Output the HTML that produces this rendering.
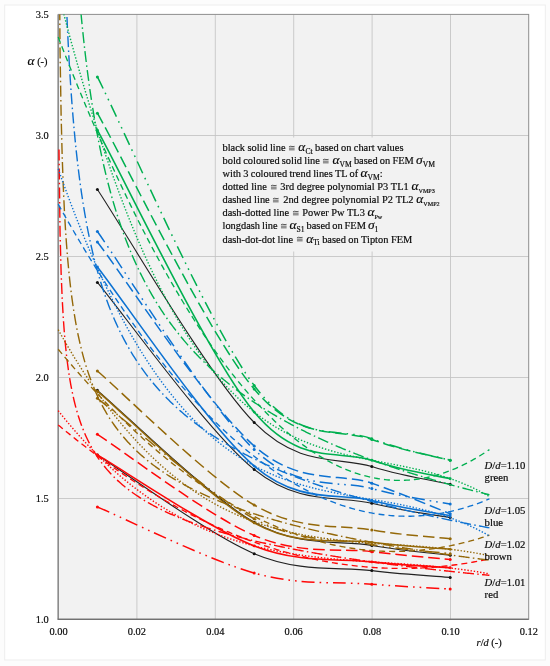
<!DOCTYPE html>
<html><head><meta charset="utf-8"><title>chart</title>
<style>html,body{margin:0;padding:0;background:#fff}svg{display:block}</style></head>
<body>
<svg width="550" height="666" viewBox="0 0 550 666">
<rect x="0" y="0" width="550" height="666" fill="#ffffff"/>
<rect x="0" y="0" width="550" height="666" fill="#fcfcfc"/>
<rect x="4.7" y="5" width="540.6" height="655" fill="#ffffff" stroke="#ededed" stroke-width="1"/>
<rect x="58.3" y="14.4" width="470.4" height="604.8" fill="#f2f2f2"/>
<path d="M136.90,14.5V619 M215.30,14.5V619 M293.70,14.5V619 M372.10,14.5V619 M450.50,14.5V619 M58.5,135.50H528.9 M58.5,256.50H528.9 M58.5,377.50H528.9 M58.5,498.50H528.9" stroke="#c3c3c3" stroke-width="0.85" fill="none"/>
<rect x="217" y="137.5" width="229" height="114" fill="#f2f2f2"/>
<rect x="58.3" y="14.4" width="470.4" height="604.8" fill="none" stroke="#8e8e8e" stroke-width="1"/>
<path d="M58.2,14.4V619.2" stroke="#8c8c8c" stroke-width="1.5" fill="none"/>
<path d="M57.5,619.3H528.7" stroke="#5e5e5e" stroke-width="1.1" fill="none"/>
<defs><clipPath id="cp"><rect x="57.2" y="14.4" width="471.8" height="605"/></clipPath></defs>
<g clip-path="url(#cp)" fill="none" stroke-linejoin="round">
<g stroke="#ff0808" stroke-width="1.5">
<path d="M97.40,454.92 C123.53,471.38 208.47,534.38 254.20,553.66 C299.93,572.94 339.13,566.65 371.80,570.60 C404.47,574.55 437.13,576.25 450.20,577.38" stroke="#222" stroke-width="1.1"/>
<circle cx="97.40" cy="454.92" r="1.5" fill="#111" stroke="none"/>
<circle cx="254.20" cy="553.66" r="1.5" fill="#111" stroke="none"/>
<circle cx="371.80" cy="570.60" r="1.5" fill="#111" stroke="none"/>
<circle cx="450.20" cy="577.38" r="1.5" fill="#111" stroke="none"/>
<path d="M97.40,454.92 C123.53,470.09 208.47,528.09 254.20,545.92 C299.93,563.74 339.13,558.26 371.80,561.89 C404.47,565.52 437.13,566.73 450.20,567.70" stroke-width="1.6"/>
<circle cx="97.40" cy="454.92" r="1.4" fill="#ff0808" stroke="none"/>
<circle cx="254.20" cy="545.92" r="1.4" fill="#ff0808" stroke="none"/>
<circle cx="371.80" cy="561.89" r="1.4" fill="#ff0808" stroke="none"/>
<circle cx="450.20" cy="567.70" r="1.4" fill="#ff0808" stroke="none"/>
<path d="M58.20,410.66 L60.17,413.14 L62.14,415.59 L64.11,418.02 L66.08,420.42 L68.04,422.79 L70.01,425.13 L71.98,427.44 L73.95,429.73 L75.92,431.99 L77.89,434.22 L79.86,436.43 L81.83,438.61 L83.80,440.76 L85.77,442.89 L87.73,444.99 L89.70,447.06 L91.67,449.11 L93.64,451.13 L95.61,453.13 L97.58,455.10 L99.55,457.05 L101.52,458.97 L103.49,460.87 L105.45,462.74 L107.42,464.59 L109.39,466.41 L111.36,468.21 L113.33,469.99 L115.30,471.74 L117.27,473.47 L119.24,475.17 L121.21,476.86 L123.18,478.51 L125.14,480.15 L127.11,481.76 L129.08,483.35 L131.05,484.92 L133.02,486.47 L134.99,487.99 L136.96,489.49 L138.93,490.97 L140.90,492.43 L142.86,493.87 L144.83,495.29 L146.80,496.68 L148.77,498.06 L150.74,499.41 L152.71,500.74 L154.68,502.06 L156.65,503.35 L158.62,504.62 L160.59,505.88 L162.55,507.11 L164.52,508.32 L166.49,509.52 L168.46,510.70 L170.43,511.85 L172.40,512.99 L174.37,514.11 L176.34,515.21 L178.31,516.29 L180.27,517.36 L182.24,518.41 L184.21,519.44 L186.18,520.45 L188.15,521.44 L190.12,522.42 L192.09,523.38 L194.06,524.32 L196.03,525.25 L198.00,526.16 L199.96,527.05 L201.93,527.93 L203.90,528.79 L205.87,529.64 L207.84,530.47 L209.81,531.28 L211.78,532.08 L213.75,532.87 L215.72,533.64 L217.68,534.39 L219.65,535.13 L221.62,535.86 L223.59,536.57 L225.56,537.26 L227.53,537.95 L229.50,538.62 L231.47,539.27 L233.44,539.91 L235.41,540.54 L237.37,541.16 L239.34,541.76 L241.31,542.35 L243.28,542.93 L245.25,543.50 L247.22,544.05 L249.19,544.59 L251.16,545.12 L253.13,545.64 L255.09,546.14 L257.06,546.64 L259.03,547.12 L261.00,547.60 L262.97,548.06 L264.94,548.51 L266.91,548.95 L268.88,549.38 L270.85,549.80 L272.82,550.21 L274.78,550.61 L276.75,551.00 L278.72,551.39 L280.69,551.76 L282.66,552.12 L284.63,552.48 L286.60,552.82 L288.57,553.16 L290.54,553.49 L292.51,553.81 L294.47,554.12 L296.44,554.42 L298.41,554.72 L300.38,555.01 L302.35,555.29 L304.32,555.57 L306.29,555.83 L308.26,556.09 L310.23,556.35 L312.19,556.60 L314.16,556.84 L316.13,557.07 L318.10,557.30 L320.07,557.52 L322.04,557.74 L324.01,557.95 L325.98,558.16 L327.95,558.36 L329.92,558.56 L331.88,558.75 L333.85,558.94 L335.82,559.12 L337.79,559.30 L339.76,559.48 L341.73,559.65 L343.70,559.81 L345.67,559.98 L347.64,560.14 L349.60,560.29 L351.57,560.45 L353.54,560.60 L355.51,560.74 L357.48,560.89 L359.45,561.03 L361.42,561.17 L363.39,561.31 L365.36,561.45 L367.33,561.59 L369.29,561.72 L371.26,561.85 L373.23,561.98 L375.20,562.11 L377.17,562.24 L379.14,562.37 L381.11,562.50 L383.08,562.63 L385.05,562.76 L387.01,562.88 L388.98,563.01 L390.95,563.14 L392.92,563.27 L394.89,563.40 L396.86,563.53 L398.83,563.66 L400.80,563.80 L402.77,563.93 L404.74,564.07 L406.70,564.21 L408.67,564.35 L410.64,564.49 L412.61,564.63 L414.58,564.78 L416.55,564.93 L418.52,565.08 L420.49,565.24 L422.46,565.39 L424.42,565.56 L426.39,565.72 L428.36,565.89 L430.33,566.06 L432.30,566.24 L434.27,566.42 L436.24,566.61 L438.21,566.80 L440.18,566.99 L442.15,567.19 L444.11,567.39 L446.08,567.60 L448.05,567.82 L450.02,568.04 L451.99,568.26 L453.96,568.50 L455.93,568.74 L457.90,568.98 L459.87,569.23 L461.83,569.49 L463.80,569.75 L465.77,570.02 L467.74,570.30 L469.71,570.59 L471.68,570.88 L473.65,571.18 L475.62,571.49 L477.59,571.81 L479.56,572.13 L481.52,572.47 L483.49,572.81 L485.46,573.16 L487.43,573.52 L489.40,573.88 " stroke-dasharray="1.4 1.8" stroke-width="1.4"/>
<path d="M58.20,424.91 L60.17,426.55 L62.14,428.18 L64.11,429.81 L66.08,431.42 L68.04,433.03 L70.01,434.62 L71.98,436.21 L73.95,437.79 L75.92,439.35 L77.89,440.91 L79.86,442.46 L81.83,444.00 L83.80,445.53 L85.77,447.05 L87.73,448.56 L89.70,450.06 L91.67,451.55 L93.64,453.04 L95.61,454.51 L97.58,455.97 L99.55,457.43 L101.52,458.87 L103.49,460.30 L105.45,461.73 L107.42,463.15 L109.39,464.55 L111.36,465.95 L113.33,467.34 L115.30,468.72 L117.27,470.09 L119.24,471.44 L121.21,472.79 L123.18,474.14 L125.14,475.47 L127.11,476.79 L129.08,478.10 L131.05,479.40 L133.02,480.70 L134.99,481.98 L136.96,483.25 L138.93,484.52 L140.90,485.77 L142.86,487.02 L144.83,488.26 L146.80,489.48 L148.77,490.70 L150.74,491.91 L152.71,493.11 L154.68,494.30 L156.65,495.47 L158.62,496.65 L160.59,497.81 L162.55,498.96 L164.52,500.10 L166.49,501.23 L168.46,502.35 L170.43,503.47 L172.40,504.57 L174.37,505.67 L176.34,506.75 L178.31,507.83 L180.27,508.89 L182.24,509.95 L184.21,511.00 L186.18,512.03 L188.15,513.06 L190.12,514.08 L192.09,515.09 L194.06,516.09 L196.03,517.08 L198.00,518.06 L199.96,519.03 L201.93,519.99 L203.90,520.95 L205.87,521.89 L207.84,522.82 L209.81,523.75 L211.78,524.66 L213.75,525.57 L215.72,526.46 L217.68,527.35 L219.65,528.23 L221.62,529.09 L223.59,529.95 L225.56,530.80 L227.53,531.64 L229.50,532.47 L231.47,533.29 L233.44,534.10 L235.41,534.90 L237.37,535.69 L239.34,536.48 L241.31,537.25 L243.28,538.01 L245.25,538.77 L247.22,539.51 L249.19,540.25 L251.16,540.97 L253.13,541.69 L255.09,542.39 L257.06,543.09 L259.03,543.78 L261.00,544.46 L262.97,545.13 L264.94,545.78 L266.91,546.43 L268.88,547.07 L270.85,547.71 L272.82,548.33 L274.78,548.94 L276.75,549.54 L278.72,550.13 L280.69,550.72 L282.66,551.29 L284.63,551.86 L286.60,552.41 L288.57,552.96 L290.54,553.49 L292.51,554.02 L294.47,554.54 L296.44,555.05 L298.41,555.55 L300.38,556.03 L302.35,556.51 L304.32,556.98 L306.29,557.44 L308.26,557.90 L310.23,558.34 L312.19,558.77 L314.16,559.19 L316.13,559.61 L318.10,560.01 L320.07,560.40 L322.04,560.79 L324.01,561.16 L325.98,561.53 L327.95,561.89 L329.92,562.23 L331.88,562.57 L333.85,562.90 L335.82,563.22 L337.79,563.53 L339.76,563.83 L341.73,564.12 L343.70,564.40 L345.67,564.67 L347.64,564.93 L349.60,565.19 L351.57,565.43 L353.54,565.66 L355.51,565.89 L357.48,566.10 L359.45,566.31 L361.42,566.50 L363.39,566.69 L365.36,566.86 L367.33,567.03 L369.29,567.19 L371.26,567.34 L373.23,567.48 L375.20,567.61 L377.17,567.73 L379.14,567.84 L381.11,567.94 L383.08,568.03 L385.05,568.11 L387.01,568.19 L388.98,568.25 L390.95,568.30 L392.92,568.35 L394.89,568.38 L396.86,568.41 L398.83,568.42 L400.80,568.43 L402.77,568.43 L404.74,568.41 L406.70,568.39 L408.67,568.36 L410.64,568.32 L412.61,568.27 L414.58,568.21 L416.55,568.14 L418.52,568.06 L420.49,567.97 L422.46,567.88 L424.42,567.77 L426.39,567.65 L428.36,567.53 L430.33,567.39 L432.30,567.25 L434.27,567.09 L436.24,566.93 L438.21,566.76 L440.18,566.57 L442.15,566.38 L444.11,566.18 L446.08,565.97 L448.05,565.75 L450.02,565.52 L451.99,565.28 L453.96,565.03 L455.93,564.77 L457.90,564.50 L459.87,564.23 L461.83,563.94 L463.80,563.64 L465.77,563.34 L467.74,563.02 L469.71,562.70 L471.68,562.36 L473.65,562.02 L475.62,561.67 L477.59,561.31 L479.56,560.93 L481.52,560.55 L483.49,560.16 L485.46,559.76 L487.43,559.35 L489.40,558.93 " stroke-dasharray="6 4" stroke-width="1.35"/>
<path d="M58.98,149.39 L60.06,233.11 L61.14,273.26 L62.22,299.23 L63.30,318.22 L64.38,333.08 L65.46,345.22 L66.54,355.46 L67.61,364.28 L68.69,372.02 L69.77,378.89 L70.85,385.06 L71.93,390.66 L73.01,395.78 L74.09,400.49 L75.17,404.84 L76.24,408.89 L77.32,412.68 L78.40,416.22 L79.48,419.55 L80.56,422.70 L81.64,425.68 L82.72,428.50 L83.79,431.19 L84.87,433.75 L85.95,436.19 L87.03,438.52 L88.11,440.76 L89.19,442.91 L90.27,444.98 L91.35,446.96 L92.42,448.88 L93.50,450.72 L94.58,452.50 L95.66,454.23 L96.74,455.89 L97.82,457.51 L98.90,459.07 L99.98,460.59 L101.05,462.06 L102.13,463.50 L103.21,464.89 L104.29,466.24 L105.37,467.56 L106.45,468.85 L107.53,470.10 L108.61,471.32 L109.68,472.51 L110.76,473.67 L111.84,474.81 L112.92,475.92 L114.00,477.01 L115.08,478.07 L116.16,479.11 L117.24,480.13 L118.31,481.12 L119.39,482.10 L120.47,483.05 L121.55,483.99 L122.63,484.91 L123.71,485.81 L124.79,486.70 L125.87,487.57 L126.94,488.42 L128.02,489.26 L129.10,490.08 L130.18,490.89 L131.26,491.69 L132.34,492.47 L133.42,493.24 L134.50,494.00 L135.57,494.74 L136.65,495.47 L137.73,496.19 L138.81,496.90 L139.89,497.60 L140.97,498.29 L142.05,498.97 L143.13,499.64 L144.20,500.30 L145.28,500.95 L146.36,501.59 L147.44,502.22 L148.52,502.84 L149.60,503.46 L150.68,504.07 L151.76,504.66 L152.83,505.25 L153.91,505.84 L154.99,506.41 L156.07,506.98 L157.15,507.54 L158.23,508.09 L159.31,508.64 L160.39,509.18 L161.46,509.72 L162.54,510.24 L163.62,510.77 L164.70,511.28 L165.78,511.79 L166.86,512.29 L167.94,512.79 L169.02,513.28 L170.09,513.77 L171.17,514.25 L172.25,514.73 L173.33,515.20 L174.41,515.67 L175.49,516.13 L176.57,516.58 L177.65,517.04 L178.72,517.48 L179.80,517.92 L180.88,518.36 L181.96,518.80 L183.04,519.23 L184.12,519.65 L185.20,520.07 L186.27,520.49 L187.35,520.90 L188.43,521.31 L189.51,521.72 L190.59,522.12 L191.67,522.51 L192.75,522.91 L193.83,523.30 L194.90,523.69 L195.98,524.07 L197.06,524.45 L198.14,524.82 L199.22,525.20 L200.30,525.57 L201.38,525.93 L202.46,526.30 L203.53,526.66 L204.61,527.02 L205.69,527.37 L206.77,527.72 L207.85,528.07 L208.93,528.42 L210.01,528.76 L211.09,529.10 L212.16,529.44 L213.24,529.77 L214.32,530.10 L215.40,530.43 L216.48,530.76 L217.56,531.08 L218.64,531.41 L219.72,531.72 L220.79,532.04 L221.87,532.36 L222.95,532.67 L224.03,532.98 L225.11,533.29 L226.19,533.59 L227.27,533.89 L228.35,534.19 L229.42,534.49 L230.50,534.79 L231.58,535.08 L232.66,535.38 L233.74,535.67 L234.82,535.95 L235.90,536.24 L236.98,536.52 L238.05,536.81 L239.13,537.09 L240.21,537.37 L241.29,537.64 L242.37,537.92 L243.45,538.19 L244.53,538.46 L245.61,538.73 L246.68,539.00 L247.76,539.26 L248.84,539.53 L249.92,539.79 L251.00,540.05 L252.08,540.31 L253.16,540.57 L254.24,540.82 L255.31,541.08 L256.39,541.33 L257.47,541.58 L258.55,541.83 L259.63,542.08 L260.71,542.32 L261.79,542.57 L262.87,542.81 L263.94,543.05 L265.02,543.29 L266.10,543.53 L267.18,543.77 L268.26,544.01 L269.34,544.24 L270.42,544.47 L271.50,544.71 L272.57,544.94 L273.65,545.17 L274.73,545.39 L275.81,545.62 L276.89,545.85 L277.97,546.07 L279.05,546.29 L280.13,546.51 L281.20,546.74 L282.28,546.95 L283.36,547.17 L284.44,547.39 L285.52,547.61 L286.60,547.82 L287.68,548.03 L288.75,548.25 L289.83,548.46 L290.91,548.67 L291.99,548.88 L293.07,549.08 L294.15,549.29 L295.23,549.50 L296.31,549.70 L297.38,549.90 L298.46,550.11 L299.54,550.31 L300.62,550.51 L301.70,550.71 L302.78,550.91 L303.86,551.10 L304.94,551.30 L306.01,551.49 L307.09,551.69 L308.17,551.88 L309.25,552.07 L310.33,552.27 L311.41,552.46 L312.49,552.65 L313.57,552.84 L314.64,553.02 L315.72,553.21 L316.80,553.40 L317.88,553.58 L318.96,553.77 L320.04,553.95 L321.12,554.13 L322.20,554.31 L323.27,554.49 L324.35,554.67 L325.43,554.85 L326.51,555.03 L327.59,555.21 L328.67,555.39 L329.75,555.56 L330.83,555.74 L331.90,555.91 L332.98,556.08 L334.06,556.26 L335.14,556.43 L336.22,556.60 L337.30,556.77 L338.38,556.94 L339.46,557.11 L340.53,557.28 L341.61,557.45 L342.69,557.61 L343.77,557.78 L344.85,557.94 L345.93,558.11 L347.01,558.27 L348.09,558.43 L349.16,558.60 L350.24,558.76 L351.32,558.92 L352.40,559.08 L353.48,559.24 L354.56,559.40 L355.64,559.56 L356.72,559.72 L357.79,559.87 L358.87,560.03 L359.95,560.19 L361.03,560.34 L362.11,560.50 L363.19,560.65 L364.27,560.80 L365.35,560.96 L366.42,561.11 L367.50,561.26 L368.58,561.41 L369.66,561.56 L370.74,561.71 L371.82,561.86 L372.90,562.01 L373.98,562.16 L375.05,562.30 L376.13,562.45 L377.21,562.60 L378.29,562.74 L379.37,562.89 L380.45,563.03 L381.53,563.18 L382.61,563.32 L383.68,563.46 L384.76,563.60 L385.84,563.75 L386.92,563.89 L388.00,564.03 L389.08,564.17 L390.16,564.31 L391.23,564.45 L392.31,564.59 L393.39,564.72 L394.47,564.86 L395.55,565.00 L396.63,565.14 L397.71,565.27 L398.79,565.41 L399.86,565.54 L400.94,565.68 L402.02,565.81 L403.10,565.94 L404.18,566.08 L405.26,566.21 L406.34,566.34 L407.42,566.48 L408.49,566.61 L409.57,566.74 L410.65,566.87 L411.73,567.00 L412.81,567.13 L413.89,567.26 L414.97,567.38 L416.05,567.51 L417.12,567.64 L418.20,567.77 L419.28,567.90 L420.36,568.02 L421.44,568.15 L422.52,568.27 L423.60,568.40 L424.68,568.52 L425.75,568.65 L426.83,568.77 L427.91,568.89 L428.99,569.02 L430.07,569.14 L431.15,569.26 L432.23,569.38 L433.31,569.51 L434.38,569.63 L435.46,569.75 L436.54,569.87 L437.62,569.99 L438.70,570.11 L439.78,570.23 L440.86,570.35 L441.94,570.46 L443.01,570.58 L444.09,570.70 L445.17,570.82 L446.25,570.93 L447.33,571.05 L448.41,571.17 L449.49,571.28 L450.57,571.40 L451.64,571.51 L452.72,571.63 L453.80,571.74 L454.88,571.85 L455.96,571.97 L457.04,572.08 L458.12,572.19 L459.20,572.31 L460.27,572.42 L461.35,572.53 L462.43,572.64 L463.51,572.75 L464.59,572.86 L465.67,572.97 L466.75,573.08 L467.83,573.19 L468.90,573.30 L469.98,573.41 L471.06,573.52 L472.14,573.63 L473.22,573.74 L474.30,573.85 L475.38,573.95 L476.46,574.06 L477.53,574.17 L478.61,574.27 L479.69,574.38 L480.77,574.49 L481.85,574.59 L482.93,574.70 L484.01,574.80 L485.09,574.91 L486.16,575.01 L487.24,575.12 L488.32,575.22 L489.40,575.32 " stroke-dasharray="11 3.3 1.5 3.3" stroke-width="1.4"/>
<path d="M97.40,434.35 C123.53,451.21 208.47,515.95 254.20,535.51 C299.93,555.07 339.13,547.73 371.80,551.72 C404.47,555.72 437.13,558.18 450.20,559.47" stroke-dasharray="11.5 5" stroke-width="1.5"/>
<circle cx="97.40" cy="434.35" r="1.5" fill="#ff0808" stroke="none"/>
<circle cx="254.20" cy="535.51" r="1.5" fill="#ff0808" stroke="none"/>
<circle cx="371.80" cy="551.72" r="1.5" fill="#ff0808" stroke="none"/>
<circle cx="450.20" cy="559.47" r="1.5" fill="#ff0808" stroke="none"/>
<path d="M97.40,506.95 C123.53,517.96 208.47,560.15 254.20,573.02 C299.93,585.89 339.13,581.49 371.80,584.15 C404.47,586.81 437.13,588.19 450.20,588.99" stroke-dasharray="13 5 1.6 5 1.6 5" stroke-width="1.5"/>
<circle cx="97.40" cy="506.95" r="1.5" fill="#ff0808" stroke="none"/>
<circle cx="254.20" cy="573.02" r="1.5" fill="#ff0808" stroke="none"/>
<circle cx="371.80" cy="584.15" r="1.5" fill="#ff0808" stroke="none"/>
<circle cx="450.20" cy="588.99" r="1.5" fill="#ff0808" stroke="none"/>
</g>
<g stroke="#946808" stroke-width="1.5">
<path d="M97.40,390.31 C123.53,412.29 208.47,496.35 254.20,522.20 C299.93,548.05 339.13,539.91 371.80,545.43 C404.47,550.96 437.13,553.70 450.20,555.35" stroke="#222" stroke-width="1.1"/>
<circle cx="97.40" cy="390.31" r="1.5" fill="#111" stroke="none"/>
<circle cx="254.20" cy="522.20" r="1.5" fill="#111" stroke="none"/>
<circle cx="371.80" cy="545.43" r="1.5" fill="#111" stroke="none"/>
<circle cx="450.20" cy="555.35" r="1.5" fill="#111" stroke="none"/>
<path d="M97.40,391.04 C123.53,413.02 208.47,497.72 254.20,522.93 C299.93,548.13 339.13,537.89 371.80,542.29 C404.47,546.68 437.13,548.13 450.20,549.30" stroke-width="1.6"/>
<circle cx="97.40" cy="391.04" r="1.4" fill="#946808" stroke="none"/>
<circle cx="254.20" cy="522.93" r="1.4" fill="#946808" stroke="none"/>
<circle cx="371.80" cy="542.29" r="1.4" fill="#946808" stroke="none"/>
<circle cx="450.20" cy="549.30" r="1.4" fill="#946808" stroke="none"/>
<path d="M58.20,329.68 L60.17,333.20 L62.14,336.68 L64.11,340.12 L66.08,343.52 L68.04,346.88 L70.01,350.20 L71.98,353.49 L73.95,356.73 L75.92,359.94 L77.89,363.11 L79.86,366.24 L81.83,369.33 L83.80,372.38 L85.77,375.40 L87.73,378.38 L89.70,381.33 L91.67,384.23 L93.64,387.11 L95.61,389.94 L97.58,392.74 L99.55,395.51 L101.52,398.23 L103.49,400.93 L105.45,403.59 L107.42,406.21 L109.39,408.80 L111.36,411.36 L113.33,413.88 L115.30,416.37 L117.27,418.83 L119.24,421.25 L121.21,423.64 L123.18,426.00 L125.14,428.32 L127.11,430.62 L129.08,432.88 L131.05,435.11 L133.02,437.30 L134.99,439.47 L136.96,441.61 L138.93,443.71 L140.90,445.78 L142.86,447.83 L144.83,449.84 L146.80,451.83 L148.77,453.78 L150.74,455.71 L152.71,457.60 L154.68,459.47 L156.65,461.31 L158.62,463.12 L160.59,464.90 L162.55,466.66 L164.52,468.38 L166.49,470.08 L168.46,471.76 L170.43,473.40 L172.40,475.02 L174.37,476.61 L176.34,478.18 L178.31,479.72 L180.27,481.23 L182.24,482.72 L184.21,484.18 L186.18,485.62 L188.15,487.04 L190.12,488.42 L192.09,489.79 L194.06,491.13 L196.03,492.45 L198.00,493.74 L199.96,495.01 L201.93,496.26 L203.90,497.48 L205.87,498.68 L207.84,499.86 L209.81,501.02 L211.78,502.15 L213.75,503.26 L215.72,504.35 L217.68,505.42 L219.65,506.47 L221.62,507.50 L223.59,508.51 L225.56,509.50 L227.53,510.46 L229.50,511.41 L231.47,512.34 L233.44,513.25 L235.41,514.14 L237.37,515.01 L239.34,515.86 L241.31,516.70 L243.28,517.51 L245.25,518.31 L247.22,519.09 L249.19,519.85 L251.16,520.60 L253.13,521.33 L255.09,522.04 L257.06,522.73 L259.03,523.41 L261.00,524.07 L262.97,524.72 L264.94,525.35 L266.91,525.97 L268.88,526.57 L270.85,527.16 L272.82,527.73 L274.78,528.29 L276.75,528.83 L278.72,529.36 L280.69,529.88 L282.66,530.38 L284.63,530.87 L286.60,531.34 L288.57,531.81 L290.54,532.26 L292.51,532.70 L294.47,533.13 L296.44,533.54 L298.41,533.94 L300.38,534.34 L302.35,534.72 L304.32,535.09 L306.29,535.45 L308.26,535.80 L310.23,536.14 L312.19,536.47 L314.16,536.79 L316.13,537.10 L318.10,537.40 L320.07,537.70 L322.04,537.98 L324.01,538.26 L325.98,538.52 L327.95,538.78 L329.92,539.04 L331.88,539.28 L333.85,539.52 L335.82,539.75 L337.79,539.97 L339.76,540.19 L341.73,540.40 L343.70,540.61 L345.67,540.80 L347.64,541.00 L349.60,541.19 L351.57,541.37 L353.54,541.55 L355.51,541.72 L357.48,541.89 L359.45,542.06 L361.42,542.22 L363.39,542.37 L365.36,542.53 L367.33,542.68 L369.29,542.83 L371.26,542.97 L373.23,543.12 L375.20,543.26 L377.17,543.39 L379.14,543.53 L381.11,543.67 L383.08,543.80 L385.05,543.93 L387.01,544.07 L388.98,544.20 L390.95,544.33 L392.92,544.46 L394.89,544.59 L396.86,544.72 L398.83,544.85 L400.80,544.99 L402.77,545.12 L404.74,545.26 L406.70,545.39 L408.67,545.53 L410.64,545.67 L412.61,545.82 L414.58,545.96 L416.55,546.11 L418.52,546.26 L420.49,546.42 L422.46,546.57 L424.42,546.74 L426.39,546.90 L428.36,547.07 L430.33,547.25 L432.30,547.42 L434.27,547.61 L436.24,547.80 L438.21,547.99 L440.18,548.19 L442.15,548.40 L444.11,548.61 L446.08,548.83 L448.05,549.05 L450.02,549.28 L451.99,549.52 L453.96,549.77 L455.93,550.02 L457.90,550.28 L459.87,550.55 L461.83,550.83 L463.80,551.11 L465.77,551.41 L467.74,551.71 L469.71,552.02 L471.68,552.34 L473.65,552.67 L475.62,553.02 L477.59,553.37 L479.56,553.73 L481.52,554.10 L483.49,554.48 L485.46,554.88 L487.43,555.28 L489.40,555.70 " stroke-dasharray="1.4 1.8" stroke-width="1.4"/>
<path d="M58.20,349.30 L60.17,351.66 L62.14,354.01 L64.11,356.35 L66.08,358.67 L68.04,360.98 L70.01,363.28 L71.98,365.56 L73.95,367.82 L75.92,370.08 L77.89,372.31 L79.86,374.54 L81.83,376.75 L83.80,378.95 L85.77,381.13 L87.73,383.30 L89.70,385.46 L91.67,387.60 L93.64,389.72 L95.61,391.84 L97.58,393.94 L99.55,396.02 L101.52,398.10 L103.49,400.15 L105.45,402.20 L107.42,404.23 L109.39,406.24 L111.36,408.25 L113.33,410.24 L115.30,412.21 L117.27,414.17 L119.24,416.12 L121.21,418.05 L123.18,419.97 L125.14,421.87 L127.11,423.77 L129.08,425.64 L131.05,427.51 L133.02,429.36 L134.99,431.19 L136.96,433.01 L138.93,434.82 L140.90,436.62 L142.86,438.40 L144.83,440.16 L146.80,441.91 L148.77,443.65 L150.74,445.38 L152.71,447.09 L154.68,448.78 L156.65,450.47 L158.62,452.13 L160.59,453.79 L162.55,455.43 L164.52,457.06 L166.49,458.67 L168.46,460.27 L170.43,461.86 L172.40,463.43 L174.37,464.98 L176.34,466.53 L178.31,468.06 L180.27,469.57 L182.24,471.08 L184.21,472.56 L186.18,474.04 L188.15,475.50 L190.12,476.94 L192.09,478.38 L194.06,479.80 L196.03,481.20 L198.00,482.59 L199.96,483.97 L201.93,485.33 L203.90,486.68 L205.87,488.01 L207.84,489.34 L209.81,490.64 L211.78,491.94 L213.75,493.22 L215.72,494.48 L217.68,495.73 L219.65,496.97 L221.62,498.19 L223.59,499.40 L225.56,500.60 L227.53,501.78 L229.50,502.95 L231.47,504.11 L233.44,505.25 L235.41,506.37 L237.37,507.48 L239.34,508.58 L241.31,509.67 L243.28,510.74 L245.25,511.80 L247.22,512.84 L249.19,513.87 L251.16,514.88 L253.13,515.89 L255.09,516.87 L257.06,517.85 L259.03,518.81 L261.00,519.75 L262.97,520.68 L264.94,521.60 L266.91,522.51 L268.88,523.40 L270.85,524.27 L272.82,525.13 L274.78,525.98 L276.75,526.82 L278.72,527.64 L280.69,528.45 L282.66,529.24 L284.63,530.02 L286.60,530.78 L288.57,531.53 L290.54,532.27 L292.51,532.99 L294.47,533.70 L296.44,534.40 L298.41,535.08 L300.38,535.75 L302.35,536.40 L304.32,537.04 L306.29,537.67 L308.26,538.28 L310.23,538.88 L312.19,539.46 L314.16,540.03 L316.13,540.59 L318.10,541.13 L320.07,541.66 L322.04,542.18 L324.01,542.68 L325.98,543.16 L327.95,543.64 L329.92,544.10 L331.88,544.54 L333.85,544.97 L335.82,545.39 L337.79,545.79 L339.76,546.18 L341.73,546.56 L343.70,546.92 L345.67,547.27 L347.64,547.60 L349.60,547.92 L351.57,548.23 L353.54,548.52 L355.51,548.80 L357.48,549.06 L359.45,549.31 L361.42,549.55 L363.39,549.77 L365.36,549.98 L367.33,550.18 L369.29,550.36 L371.26,550.53 L373.23,550.68 L375.20,550.82 L377.17,550.94 L379.14,551.06 L381.11,551.15 L383.08,551.24 L385.05,551.31 L387.01,551.36 L388.98,551.41 L390.95,551.43 L392.92,551.45 L394.89,551.45 L396.86,551.43 L398.83,551.41 L400.80,551.37 L402.77,551.31 L404.74,551.24 L406.70,551.16 L408.67,551.06 L410.64,550.95 L412.61,550.83 L414.58,550.69 L416.55,550.53 L418.52,550.37 L420.49,550.19 L422.46,549.99 L424.42,549.79 L426.39,549.56 L428.36,549.33 L430.33,549.08 L432.30,548.81 L434.27,548.54 L436.24,548.24 L438.21,547.94 L440.18,547.62 L442.15,547.29 L444.11,546.94 L446.08,546.58 L448.05,546.20 L450.02,545.81 L451.99,545.41 L453.96,544.99 L455.93,544.56 L457.90,544.12 L459.87,543.66 L461.83,543.19 L463.80,542.70 L465.77,542.20 L467.74,541.69 L469.71,541.16 L471.68,540.62 L473.65,540.06 L475.62,539.49 L477.59,538.91 L479.56,538.31 L481.52,537.70 L483.49,537.07 L485.46,536.43 L487.43,535.78 L489.40,535.11 " stroke-dasharray="6 4" stroke-width="1.35"/>
<path d="M58.98,-86.27 L60.06,51.62 L61.14,116.13 L62.22,157.26 L63.30,187.02 L64.38,210.13 L65.46,228.89 L66.54,244.62 L67.61,258.11 L68.69,269.88 L69.77,280.31 L70.85,289.64 L71.93,298.08 L73.01,305.76 L74.09,312.82 L75.17,319.32 L76.24,325.36 L77.32,330.99 L78.40,336.25 L79.48,341.19 L80.56,345.84 L81.64,350.23 L82.72,354.39 L83.79,358.34 L84.87,362.10 L85.95,365.68 L87.03,369.11 L88.11,372.38 L89.19,375.52 L90.27,378.53 L91.35,381.42 L92.42,384.21 L93.50,386.89 L94.58,389.48 L95.66,391.97 L96.74,394.39 L97.82,396.72 L98.90,398.99 L99.98,401.18 L101.05,403.30 L102.13,405.37 L103.21,407.37 L104.29,409.32 L105.37,411.22 L106.45,413.06 L107.53,414.86 L108.61,416.61 L109.68,418.32 L110.76,419.98 L111.84,421.61 L112.92,423.20 L114.00,424.75 L115.08,426.26 L116.16,427.75 L117.24,429.20 L118.31,430.61 L119.39,432.00 L120.47,433.36 L121.55,434.70 L122.63,436.00 L123.71,437.29 L124.79,438.54 L125.87,439.77 L126.94,440.98 L128.02,442.17 L129.10,443.34 L130.18,444.48 L131.26,445.61 L132.34,446.71 L133.42,447.80 L134.50,448.87 L135.57,449.92 L136.65,450.95 L137.73,451.97 L138.81,452.97 L139.89,453.95 L140.97,454.92 L142.05,455.88 L143.13,456.82 L144.20,457.74 L145.28,458.66 L146.36,459.56 L147.44,460.44 L148.52,461.32 L149.60,462.18 L150.68,463.03 L151.76,463.87 L152.83,464.69 L153.91,465.51 L154.99,466.31 L156.07,467.11 L157.15,467.89 L158.23,468.67 L159.31,469.43 L160.39,470.19 L161.46,470.93 L162.54,471.67 L163.62,472.39 L164.70,473.11 L165.78,473.82 L166.86,474.52 L167.94,475.22 L169.02,475.90 L170.09,476.58 L171.17,477.25 L172.25,477.91 L173.33,478.57 L174.41,479.22 L175.49,479.86 L176.57,480.49 L177.65,481.12 L178.72,481.74 L179.80,482.35 L180.88,482.96 L181.96,483.56 L183.04,484.16 L184.12,484.74 L185.20,485.33 L186.27,485.90 L187.35,486.48 L188.43,487.04 L189.51,487.60 L190.59,488.16 L191.67,488.71 L192.75,489.25 L193.83,489.79 L194.90,490.33 L195.98,490.85 L197.06,491.38 L198.14,491.90 L199.22,492.41 L200.30,492.92 L201.38,493.43 L202.46,493.93 L203.53,494.43 L204.61,494.92 L205.69,495.41 L206.77,495.89 L207.85,496.37 L208.93,496.85 L210.01,497.32 L211.09,497.79 L212.16,498.25 L213.24,498.71 L214.32,499.17 L215.40,499.62 L216.48,500.07 L217.56,500.51 L218.64,500.96 L219.72,501.39 L220.79,501.83 L221.87,502.26 L222.95,502.69 L224.03,503.11 L225.11,503.54 L226.19,503.95 L227.27,504.37 L228.35,504.78 L229.42,505.19 L230.50,505.60 L231.58,506.00 L232.66,506.40 L233.74,506.80 L234.82,507.19 L235.90,507.58 L236.98,507.97 L238.05,508.36 L239.13,508.74 L240.21,509.12 L241.29,509.50 L242.37,509.87 L243.45,510.25 L244.53,510.62 L245.61,510.98 L246.68,511.35 L247.76,511.71 L248.84,512.07 L249.92,512.43 L251.00,512.78 L252.08,513.14 L253.16,513.49 L254.24,513.84 L255.31,514.18 L256.39,514.53 L257.47,514.87 L258.55,515.21 L259.63,515.55 L260.71,515.88 L261.79,516.21 L262.87,516.55 L263.94,516.87 L265.02,517.20 L266.10,517.53 L267.18,517.85 L268.26,518.17 L269.34,518.49 L270.42,518.81 L271.50,519.12 L272.57,519.44 L273.65,519.75 L274.73,520.06 L275.81,520.36 L276.89,520.67 L277.97,520.97 L279.05,521.28 L280.13,521.58 L281.20,521.88 L282.28,522.17 L283.36,522.47 L284.44,522.76 L285.52,523.06 L286.60,523.35 L287.68,523.64 L288.75,523.92 L289.83,524.21 L290.91,524.49 L291.99,524.78 L293.07,525.06 L294.15,525.34 L295.23,525.62 L296.31,525.89 L297.38,526.17 L298.46,526.44 L299.54,526.71 L300.62,526.99 L301.70,527.25 L302.78,527.52 L303.86,527.79 L304.94,528.05 L306.01,528.32 L307.09,528.58 L308.17,528.84 L309.25,529.10 L310.33,529.36 L311.41,529.62 L312.49,529.87 L313.57,530.13 L314.64,530.38 L315.72,530.63 L316.80,530.89 L317.88,531.14 L318.96,531.38 L320.04,531.63 L321.12,531.88 L322.20,532.12 L323.27,532.37 L324.35,532.61 L325.43,532.85 L326.51,533.09 L327.59,533.33 L328.67,533.57 L329.75,533.80 L330.83,534.04 L331.90,534.27 L332.98,534.51 L334.06,534.74 L335.14,534.97 L336.22,535.20 L337.30,535.43 L338.38,535.66 L339.46,535.89 L340.53,536.11 L341.61,536.34 L342.69,536.56 L343.77,536.79 L344.85,537.01 L345.93,537.23 L347.01,537.45 L348.09,537.67 L349.16,537.89 L350.24,538.10 L351.32,538.32 L352.40,538.54 L353.48,538.75 L354.56,538.96 L355.64,539.18 L356.72,539.39 L357.79,539.60 L358.87,539.81 L359.95,540.02 L361.03,540.23 L362.11,540.43 L363.19,540.64 L364.27,540.85 L365.35,541.05 L366.42,541.25 L367.50,541.46 L368.58,541.66 L369.66,541.86 L370.74,542.06 L371.82,542.26 L372.90,542.46 L373.98,542.66 L375.05,542.85 L376.13,543.05 L377.21,543.25 L378.29,543.44 L379.37,543.64 L380.45,543.83 L381.53,544.02 L382.61,544.21 L383.68,544.41 L384.76,544.60 L385.84,544.79 L386.92,544.97 L388.00,545.16 L389.08,545.35 L390.16,545.54 L391.23,545.72 L392.31,545.91 L393.39,546.09 L394.47,546.28 L395.55,546.46 L396.63,546.64 L397.71,546.82 L398.79,547.00 L399.86,547.19 L400.94,547.37 L402.02,547.54 L403.10,547.72 L404.18,547.90 L405.26,548.08 L406.34,548.25 L407.42,548.43 L408.49,548.61 L409.57,548.78 L410.65,548.95 L411.73,549.13 L412.81,549.30 L413.89,549.47 L414.97,549.64 L416.05,549.81 L417.12,549.98 L418.20,550.15 L419.28,550.32 L420.36,550.49 L421.44,550.66 L422.52,550.83 L423.60,550.99 L424.68,551.16 L425.75,551.32 L426.83,551.49 L427.91,551.65 L428.99,551.82 L430.07,551.98 L431.15,552.14 L432.23,552.31 L433.31,552.47 L434.38,552.63 L435.46,552.79 L436.54,552.95 L437.62,553.11 L438.70,553.27 L439.78,553.43 L440.86,553.58 L441.94,553.74 L443.01,553.90 L444.09,554.05 L445.17,554.21 L446.25,554.36 L447.33,554.52 L448.41,554.67 L449.49,554.83 L450.57,554.98 L451.64,555.13 L452.72,555.29 L453.80,555.44 L454.88,555.59 L455.96,555.74 L457.04,555.89 L458.12,556.04 L459.20,556.19 L460.27,556.34 L461.35,556.49 L462.43,556.63 L463.51,556.78 L464.59,556.93 L465.67,557.07 L466.75,557.22 L467.83,557.37 L468.90,557.51 L469.98,557.66 L471.06,557.80 L472.14,557.94 L473.22,558.09 L474.30,558.23 L475.38,558.37 L476.46,558.51 L477.53,558.66 L478.61,558.80 L479.69,558.94 L480.77,559.08 L481.85,559.22 L482.93,559.36 L484.01,559.50 L485.09,559.64 L486.16,559.77 L487.24,559.91 L488.32,560.05 L489.40,560.19 " stroke-dasharray="11 3.3 1.5 3.3" stroke-width="1.4"/>
<path d="M97.40,370.95 C123.53,393.29 208.47,478.52 254.20,505.02 C299.93,531.52 339.13,524.34 371.80,529.94 C404.47,535.55 437.13,537.20 450.20,538.66" stroke-dasharray="11.5 5" stroke-width="1.5"/>
<circle cx="97.40" cy="370.95" r="1.5" fill="#946808" stroke="none"/>
<circle cx="254.20" cy="505.02" r="1.5" fill="#946808" stroke="none"/>
<circle cx="371.80" cy="529.94" r="1.5" fill="#946808" stroke="none"/>
<circle cx="450.20" cy="538.66" r="1.5" fill="#946808" stroke="none"/>
<path d="M97.40,398.30 C123.53,418.38 208.47,494.45 254.20,518.81 C299.93,543.17 339.13,538.66 371.80,544.46 C404.47,550.27 437.13,552.13 450.20,553.66" stroke-dasharray="13 5 1.6 5 1.6 5" stroke-width="1.5"/>
<circle cx="97.40" cy="398.30" r="1.5" fill="#946808" stroke="none"/>
<circle cx="254.20" cy="518.81" r="1.5" fill="#946808" stroke="none"/>
<circle cx="371.80" cy="544.46" r="1.5" fill="#946808" stroke="none"/>
<circle cx="450.20" cy="553.66" r="1.5" fill="#946808" stroke="none"/>
</g>
<g stroke="#0d72d2" stroke-width="1.5">
<path d="M97.40,282.38 C123.53,313.56 208.47,432.62 254.20,469.44 C299.93,506.27 339.13,495.30 371.80,503.32 C404.47,511.35 437.13,515.22 450.20,517.60" stroke="#222" stroke-width="1.1"/>
<circle cx="97.40" cy="282.38" r="1.5" fill="#111" stroke="none"/>
<circle cx="254.20" cy="469.44" r="1.5" fill="#111" stroke="none"/>
<circle cx="371.80" cy="503.32" r="1.5" fill="#111" stroke="none"/>
<circle cx="450.20" cy="517.60" r="1.5" fill="#111" stroke="none"/>
<path d="M97.40,266.89 C123.53,300.08 208.47,427.13 254.20,466.06 C299.93,504.98 339.13,492.15 371.80,500.42 C404.47,508.69 437.13,513.12 450.20,515.67" stroke-width="1.6"/>
<circle cx="97.40" cy="266.89" r="1.4" fill="#0d72d2" stroke="none"/>
<circle cx="254.20" cy="466.06" r="1.4" fill="#0d72d2" stroke="none"/>
<circle cx="371.80" cy="500.42" r="1.4" fill="#0d72d2" stroke="none"/>
<circle cx="450.20" cy="515.67" r="1.4" fill="#0d72d2" stroke="none"/>
<path d="M58.20,168.90 L60.17,174.49 L62.14,180.02 L64.11,185.47 L66.08,190.86 L68.04,196.19 L70.01,201.45 L71.98,206.65 L73.95,211.78 L75.92,216.84 L77.89,221.85 L79.86,226.79 L81.83,231.67 L83.80,236.48 L85.77,241.24 L87.73,245.93 L89.70,250.57 L91.67,255.14 L93.64,259.65 L95.61,264.10 L97.58,268.50 L99.55,272.83 L101.52,277.11 L103.49,281.33 L105.45,285.49 L107.42,289.59 L109.39,293.64 L111.36,297.63 L113.33,301.57 L115.30,305.45 L117.27,309.28 L119.24,313.05 L121.21,316.77 L123.18,320.43 L125.14,324.04 L127.11,327.60 L129.08,331.11 L131.05,334.56 L133.02,337.96 L134.99,341.31 L136.96,344.62 L138.93,347.87 L140.90,351.07 L142.86,354.22 L144.83,357.32 L146.80,360.38 L148.77,363.38 L150.74,366.34 L152.71,369.25 L154.68,372.12 L156.65,374.94 L158.62,377.71 L160.59,380.44 L162.55,383.12 L164.52,385.76 L166.49,388.35 L168.46,390.90 L170.43,393.41 L172.40,395.87 L174.37,398.30 L176.34,400.68 L178.31,403.01 L180.27,405.31 L182.24,407.57 L184.21,409.78 L186.18,411.96 L188.15,414.09 L190.12,416.19 L192.09,418.25 L194.06,420.27 L196.03,422.25 L198.00,424.20 L199.96,426.10 L201.93,427.98 L203.90,429.81 L205.87,431.61 L207.84,433.38 L209.81,435.11 L211.78,436.80 L213.75,438.47 L215.72,440.09 L217.68,441.69 L219.65,443.25 L221.62,444.78 L223.59,446.28 L225.56,447.75 L227.53,449.18 L229.50,450.59 L231.47,451.97 L233.44,453.31 L235.41,454.63 L237.37,455.92 L239.34,457.18 L241.31,458.41 L243.28,459.61 L245.25,460.79 L247.22,461.94 L249.19,463.07 L251.16,464.17 L253.13,465.24 L255.09,466.29 L257.06,467.31 L259.03,468.31 L261.00,469.29 L262.97,470.24 L264.94,471.17 L266.91,472.08 L268.88,472.96 L270.85,473.83 L272.82,474.67 L274.78,475.49 L276.75,476.30 L278.72,477.08 L280.69,477.84 L282.66,478.58 L284.63,479.31 L286.60,480.02 L288.57,480.71 L290.54,481.38 L292.51,482.04 L294.47,482.67 L296.44,483.30 L298.41,483.91 L300.38,484.50 L302.35,485.08 L304.32,485.64 L306.29,486.19 L308.26,486.73 L310.23,487.25 L312.19,487.76 L314.16,488.26 L316.13,488.74 L318.10,489.22 L320.07,489.69 L322.04,490.14 L324.01,490.58 L325.98,491.02 L327.95,491.44 L329.92,491.86 L331.88,492.27 L333.85,492.67 L335.82,493.06 L337.79,493.45 L339.76,493.83 L341.73,494.20 L343.70,494.57 L345.67,494.93 L347.64,495.29 L349.60,495.65 L351.57,496.00 L353.54,496.34 L355.51,496.68 L357.48,497.02 L359.45,497.36 L361.42,497.70 L363.39,498.03 L365.36,498.36 L367.33,498.70 L369.29,499.03 L371.26,499.36 L373.23,499.69 L375.20,500.03 L377.17,500.36 L379.14,500.70 L381.11,501.04 L383.08,501.39 L385.05,501.73 L387.01,502.08 L388.98,502.44 L390.95,502.80 L392.92,503.16 L394.89,503.53 L396.86,503.90 L398.83,504.28 L400.80,504.67 L402.77,505.07 L404.74,505.47 L406.70,505.88 L408.67,506.30 L410.64,506.73 L412.61,507.16 L414.58,507.61 L416.55,508.06 L418.52,508.53 L420.49,509.01 L422.46,509.50 L424.42,510.00 L426.39,510.51 L428.36,511.04 L430.33,511.58 L432.30,512.13 L434.27,512.70 L436.24,513.28 L438.21,513.87 L440.18,514.48 L442.15,515.11 L444.11,515.75 L446.08,516.41 L448.05,517.09 L450.02,517.78 L451.99,518.49 L453.96,519.22 L455.93,519.97 L457.90,520.73 L459.87,521.52 L461.83,522.33 L463.80,523.15 L465.77,524.00 L467.74,524.87 L469.71,525.76 L471.68,526.67 L473.65,527.61 L475.62,528.56 L477.59,529.54 L479.56,530.55 L481.52,531.58 L483.49,532.63 L485.46,533.71 L487.43,534.81 L489.40,535.94 " stroke-dasharray="1.4 1.8" stroke-width="1.4"/>
<path d="M58.20,204.19 L60.17,207.70 L62.14,211.20 L64.11,214.67 L66.08,218.12 L68.04,221.55 L70.01,224.96 L71.98,228.36 L73.95,231.73 L75.92,235.08 L77.89,238.41 L79.86,241.73 L81.83,245.02 L83.80,248.29 L85.77,251.55 L87.73,254.78 L89.70,257.99 L91.67,261.19 L93.64,264.36 L95.61,267.52 L97.58,270.65 L99.55,273.76 L101.52,276.86 L103.49,279.93 L105.45,282.99 L107.42,286.02 L109.39,289.04 L111.36,292.03 L113.33,295.01 L115.30,297.96 L117.27,300.90 L119.24,303.81 L121.21,306.71 L123.18,309.58 L125.14,312.44 L127.11,315.28 L129.08,318.09 L131.05,320.89 L133.02,323.67 L134.99,326.42 L136.96,329.16 L138.93,331.88 L140.90,334.57 L142.86,337.25 L144.83,339.91 L146.80,342.54 L148.77,345.16 L150.74,347.76 L152.71,350.34 L154.68,352.89 L156.65,355.43 L158.62,357.95 L160.59,360.45 L162.55,362.93 L164.52,365.39 L166.49,367.82 L168.46,370.24 L170.43,372.64 L172.40,375.02 L174.37,377.38 L176.34,379.72 L178.31,382.04 L180.27,384.34 L182.24,386.62 L184.21,388.88 L186.18,391.12 L188.15,393.34 L190.12,395.54 L192.09,397.72 L194.06,399.88 L196.03,402.02 L198.00,404.14 L199.96,406.24 L201.93,408.32 L203.90,410.38 L205.87,412.42 L207.84,414.45 L209.81,416.45 L211.78,418.43 L213.75,420.39 L215.72,422.33 L217.68,424.25 L219.65,426.16 L221.62,428.04 L223.59,429.90 L225.56,431.74 L227.53,433.57 L229.50,435.37 L231.47,437.15 L233.44,438.92 L235.41,440.66 L237.37,442.38 L239.34,444.09 L241.31,445.77 L243.28,447.43 L245.25,449.08 L247.22,450.70 L249.19,452.30 L251.16,453.89 L253.13,455.45 L255.09,457.00 L257.06,458.52 L259.03,460.03 L261.00,461.51 L262.97,462.98 L264.94,464.42 L266.91,465.85 L268.88,467.25 L270.85,468.64 L272.82,470.00 L274.78,471.35 L276.75,472.67 L278.72,473.98 L280.69,475.27 L282.66,476.53 L284.63,477.78 L286.60,479.01 L288.57,480.21 L290.54,481.40 L292.51,482.57 L294.47,483.71 L296.44,484.84 L298.41,485.95 L300.38,487.04 L302.35,488.10 L304.32,489.15 L306.29,490.18 L308.26,491.19 L310.23,492.17 L312.19,493.14 L314.16,494.09 L316.13,495.02 L318.10,495.93 L320.07,496.82 L322.04,497.69 L324.01,498.53 L325.98,499.36 L327.95,500.17 L329.92,500.96 L331.88,501.73 L333.85,502.48 L335.82,503.21 L337.79,503.92 L339.76,504.61 L341.73,505.28 L343.70,505.93 L345.67,506.56 L347.64,507.17 L349.60,507.76 L351.57,508.33 L353.54,508.88 L355.51,509.42 L357.48,509.93 L359.45,510.42 L361.42,510.89 L363.39,511.34 L365.36,511.77 L367.33,512.18 L369.29,512.58 L371.26,512.95 L373.23,513.30 L375.20,513.63 L377.17,513.95 L379.14,514.24 L381.11,514.51 L383.08,514.76 L385.05,515.00 L387.01,515.21 L388.98,515.40 L390.95,515.58 L392.92,515.73 L394.89,515.86 L396.86,515.98 L398.83,516.07 L400.80,516.15 L402.77,516.20 L404.74,516.23 L406.70,516.25 L408.67,516.24 L410.64,516.22 L412.61,516.17 L414.58,516.11 L416.55,516.02 L418.52,515.92 L420.49,515.79 L422.46,515.65 L424.42,515.48 L426.39,515.30 L428.36,515.10 L430.33,514.87 L432.30,514.63 L434.27,514.36 L436.24,514.08 L438.21,513.78 L440.18,513.45 L442.15,513.11 L444.11,512.75 L446.08,512.36 L448.05,511.96 L450.02,511.54 L451.99,511.10 L453.96,510.63 L455.93,510.15 L457.90,509.65 L459.87,509.13 L461.83,508.59 L463.80,508.02 L465.77,507.44 L467.74,506.84 L469.71,506.22 L471.68,505.58 L473.65,504.92 L475.62,504.24 L477.59,503.53 L479.56,502.81 L481.52,502.07 L483.49,501.31 L485.46,500.53 L487.43,499.73 L489.40,498.91 " stroke-dasharray="6 4" stroke-width="1.35"/>
<path d="M62.22,-154.76 L63.30,-98.79 L64.38,-55.86 L65.46,-21.34 L66.54,7.34 L67.61,31.75 L68.69,52.93 L69.77,71.57 L70.85,88.17 L71.93,103.10 L73.01,116.65 L74.09,129.02 L75.17,140.40 L76.24,150.91 L77.32,160.68 L78.40,169.78 L79.48,178.30 L80.56,186.30 L81.64,193.84 L82.72,200.96 L83.79,207.70 L84.87,214.10 L85.95,220.19 L87.03,225.99 L88.11,231.53 L89.19,236.82 L90.27,241.89 L91.35,246.76 L92.42,251.43 L93.50,255.93 L94.58,260.25 L95.66,264.42 L96.74,268.45 L97.82,272.34 L98.90,276.09 L99.98,279.73 L101.05,283.25 L102.13,286.67 L103.21,289.98 L104.29,293.20 L105.37,296.32 L106.45,299.36 L107.53,302.31 L108.61,305.18 L109.68,307.98 L110.76,310.71 L111.84,313.37 L112.92,315.96 L114.00,318.49 L115.08,320.97 L116.16,323.38 L117.24,325.74 L118.31,328.04 L119.39,330.30 L120.47,332.51 L121.55,334.67 L122.63,336.78 L123.71,338.85 L124.79,340.88 L125.87,342.87 L126.94,344.82 L128.02,346.73 L129.10,348.61 L130.18,350.45 L131.26,352.26 L132.34,354.03 L133.42,355.78 L134.50,357.49 L135.57,359.17 L136.65,360.83 L137.73,362.45 L138.81,364.05 L139.89,365.62 L140.97,367.17 L142.05,368.69 L143.13,370.19 L144.20,371.67 L145.28,373.12 L146.36,374.55 L147.44,375.96 L148.52,377.35 L149.60,378.71 L150.68,380.06 L151.76,381.39 L152.83,382.70 L153.91,383.99 L154.99,385.26 L156.07,386.52 L157.15,387.76 L158.23,388.98 L159.31,390.18 L160.39,391.37 L161.46,392.55 L162.54,393.71 L163.62,394.85 L164.70,395.98 L165.78,397.10 L166.86,398.20 L167.94,399.29 L169.02,400.36 L170.09,401.43 L171.17,402.48 L172.25,403.52 L173.33,404.54 L174.41,405.55 L175.49,406.56 L176.57,407.55 L177.65,408.53 L178.72,409.50 L179.80,410.46 L180.88,411.40 L181.96,412.34 L183.04,413.27 L184.12,414.19 L185.20,415.09 L186.27,415.99 L187.35,416.88 L188.43,417.76 L189.51,418.63 L190.59,419.49 L191.67,420.35 L192.75,421.19 L193.83,422.03 L194.90,422.86 L195.98,423.68 L197.06,424.49 L198.14,425.29 L199.22,426.09 L200.30,426.88 L201.38,427.66 L202.46,428.44 L203.53,429.21 L204.61,429.97 L205.69,430.72 L206.77,431.47 L207.85,432.21 L208.93,432.94 L210.01,433.67 L211.09,434.39 L212.16,435.10 L213.24,435.81 L214.32,436.52 L215.40,437.21 L216.48,437.90 L217.56,438.59 L218.64,439.27 L219.72,439.94 L220.79,440.61 L221.87,441.27 L222.95,441.93 L224.03,442.58 L225.11,443.22 L226.19,443.87 L227.27,444.50 L228.35,445.13 L229.42,445.76 L230.50,446.38 L231.58,447.00 L232.66,447.61 L233.74,448.22 L234.82,448.82 L235.90,449.42 L236.98,450.01 L238.05,450.60 L239.13,451.18 L240.21,451.76 L241.29,452.34 L242.37,452.91 L243.45,453.48 L244.53,454.04 L245.61,454.60 L246.68,455.16 L247.76,455.71 L248.84,456.26 L249.92,456.80 L251.00,457.34 L252.08,457.88 L253.16,458.41 L254.24,458.94 L255.31,459.47 L256.39,459.99 L257.47,460.51 L258.55,461.02 L259.63,461.54 L260.71,462.04 L261.79,462.55 L262.87,463.05 L263.94,463.55 L265.02,464.05 L266.10,464.54 L267.18,465.03 L268.26,465.51 L269.34,465.99 L270.42,466.47 L271.50,466.95 L272.57,467.42 L273.65,467.90 L274.73,468.36 L275.81,468.83 L276.89,469.29 L277.97,469.75 L279.05,470.21 L280.13,470.66 L281.20,471.11 L282.28,471.56 L283.36,472.01 L284.44,472.45 L285.52,472.89 L286.60,473.33 L287.68,473.76 L288.75,474.19 L289.83,474.62 L290.91,475.05 L291.99,475.48 L293.07,475.90 L294.15,476.32 L295.23,476.74 L296.31,477.16 L297.38,477.57 L298.46,477.98 L299.54,478.39 L300.62,478.80 L301.70,479.20 L302.78,479.60 L303.86,480.00 L304.94,480.40 L306.01,480.80 L307.09,481.19 L308.17,481.58 L309.25,481.97 L310.33,482.36 L311.41,482.74 L312.49,483.13 L313.57,483.51 L314.64,483.89 L315.72,484.26 L316.80,484.64 L317.88,485.01 L318.96,485.38 L320.04,485.75 L321.12,486.12 L322.20,486.49 L323.27,486.85 L324.35,487.21 L325.43,487.57 L326.51,487.93 L327.59,488.29 L328.67,488.64 L329.75,489.00 L330.83,489.35 L331.90,489.70 L332.98,490.05 L334.06,490.39 L335.14,490.74 L336.22,491.08 L337.30,491.42 L338.38,491.76 L339.46,492.10 L340.53,492.44 L341.61,492.77 L342.69,493.10 L343.77,493.44 L344.85,493.77 L345.93,494.10 L347.01,494.42 L348.09,494.75 L349.16,495.07 L350.24,495.40 L351.32,495.72 L352.40,496.04 L353.48,496.35 L354.56,496.67 L355.64,496.99 L356.72,497.30 L357.79,497.61 L358.87,497.93 L359.95,498.24 L361.03,498.54 L362.11,498.85 L363.19,499.16 L364.27,499.46 L365.35,499.76 L366.42,500.07 L367.50,500.37 L368.58,500.67 L369.66,500.96 L370.74,501.26 L371.82,501.56 L372.90,501.85 L373.98,502.14 L375.05,502.44 L376.13,502.73 L377.21,503.01 L378.29,503.30 L379.37,503.59 L380.45,503.88 L381.53,504.16 L382.61,504.44 L383.68,504.73 L384.76,505.01 L385.84,505.29 L386.92,505.56 L388.00,505.84 L389.08,506.12 L390.16,506.39 L391.23,506.67 L392.31,506.94 L393.39,507.21 L394.47,507.48 L395.55,507.75 L396.63,508.02 L397.71,508.29 L398.79,508.56 L399.86,508.82 L400.94,509.09 L402.02,509.35 L403.10,509.61 L404.18,509.88 L405.26,510.14 L406.34,510.40 L407.42,510.65 L408.49,510.91 L409.57,511.17 L410.65,511.42 L411.73,511.68 L412.81,511.93 L413.89,512.18 L414.97,512.44 L416.05,512.69 L417.12,512.94 L418.20,513.19 L419.28,513.43 L420.36,513.68 L421.44,513.93 L422.52,514.17 L423.60,514.42 L424.68,514.66 L425.75,514.90 L426.83,515.14 L427.91,515.39 L428.99,515.63 L430.07,515.87 L431.15,516.10 L432.23,516.34 L433.31,516.58 L434.38,516.81 L435.46,517.05 L436.54,517.28 L437.62,517.52 L438.70,517.75 L439.78,517.98 L440.86,518.21 L441.94,518.44 L443.01,518.67 L444.09,518.90 L445.17,519.13 L446.25,519.35 L447.33,519.58 L448.41,519.80 L449.49,520.03 L450.57,520.25 L451.64,520.47 L452.72,520.70 L453.80,520.92 L454.88,521.14 L455.96,521.36 L457.04,521.58 L458.12,521.80 L459.20,522.02 L460.27,522.23 L461.35,522.45 L462.43,522.66 L463.51,522.88 L464.59,523.09 L465.67,523.31 L466.75,523.52 L467.83,523.73 L468.90,523.94 L469.98,524.15 L471.06,524.36 L472.14,524.57 L473.22,524.78 L474.30,524.99 L475.38,525.20 L476.46,525.40 L477.53,525.61 L478.61,525.82 L479.69,526.02 L480.77,526.22 L481.85,526.43 L482.93,526.63 L484.01,526.83 L485.09,527.03 L486.16,527.24 L487.24,527.44 L488.32,527.64 L489.40,527.83 " stroke-dasharray="11 3.3 1.5 3.3" stroke-width="1.4"/>
<path d="M97.40,241.96 C123.53,275.97 208.47,405.76 254.20,445.97 C299.93,486.18 339.13,471.94 371.80,483.24 C404.47,494.53 437.13,508.65 450.20,513.73" stroke-dasharray="11.5 5" stroke-width="1.5"/>
<circle cx="97.40" cy="241.96" r="1.5" fill="#0d72d2" stroke="none"/>
<circle cx="254.20" cy="445.97" r="1.5" fill="#0d72d2" stroke="none"/>
<circle cx="371.80" cy="483.24" r="1.5" fill="#0d72d2" stroke="none"/>
<circle cx="450.20" cy="513.73" r="1.5" fill="#0d72d2" stroke="none"/>
<path d="M97.40,231.56 C123.53,267.90 208.47,406.77 254.20,449.60 C299.93,492.43 339.13,479.49 371.80,488.56 C404.47,497.64 437.13,501.47 450.20,504.05" stroke-dasharray="13 5 1.6 5 1.6 5" stroke-width="1.5"/>
<circle cx="97.40" cy="231.56" r="1.5" fill="#0d72d2" stroke="none"/>
<circle cx="254.20" cy="449.60" r="1.5" fill="#0d72d2" stroke="none"/>
<circle cx="371.80" cy="488.56" r="1.5" fill="#0d72d2" stroke="none"/>
<circle cx="450.20" cy="504.05" r="1.5" fill="#0d72d2" stroke="none"/>
</g>
<g stroke="#00b050" stroke-width="1.5">
<path d="M97.40,189.45 C123.53,228.29 208.47,376.31 254.20,422.50 C299.93,468.68 339.13,456.25 371.80,466.54 C404.47,476.83 437.13,481.26 450.20,484.21" stroke="#222" stroke-width="1.1"/>
<circle cx="97.40" cy="189.45" r="1.5" fill="#111" stroke="none"/>
<circle cx="254.20" cy="422.50" r="1.5" fill="#111" stroke="none"/>
<circle cx="371.80" cy="466.54" r="1.5" fill="#111" stroke="none"/>
<circle cx="450.20" cy="484.21" r="1.5" fill="#111" stroke="none"/>
<path d="M97.40,130.16 C123.53,177.15 208.47,357.08 254.20,412.09 C299.93,467.10 339.13,449.16 371.80,460.25 C404.47,471.34 437.13,475.57 450.20,478.64" stroke-width="1.6"/>
<circle cx="97.40" cy="130.16" r="1.4" fill="#00b050" stroke="none"/>
<circle cx="254.20" cy="412.09" r="1.4" fill="#00b050" stroke="none"/>
<circle cx="371.80" cy="460.25" r="1.4" fill="#00b050" stroke="none"/>
<circle cx="450.20" cy="478.64" r="1.4" fill="#00b050" stroke="none"/>
<path d="M58.20,-7.66 L60.17,0.07 L62.14,7.71 L64.11,15.27 L66.08,22.74 L68.04,30.12 L70.01,37.41 L71.98,44.62 L73.95,51.74 L75.92,58.78 L77.89,65.73 L79.86,72.60 L81.83,79.38 L83.80,86.08 L85.77,92.70 L87.73,99.24 L89.70,105.69 L91.67,112.07 L93.64,118.36 L95.61,124.58 L97.58,130.71 L99.55,136.77 L101.52,142.75 L103.49,148.65 L105.45,154.48 L107.42,160.22 L109.39,165.89 L111.36,171.49 L113.33,177.01 L115.30,182.46 L117.27,187.83 L119.24,193.13 L121.21,198.36 L123.18,203.51 L125.14,208.60 L127.11,213.61 L129.08,218.55 L131.05,223.42 L133.02,228.22 L134.99,232.96 L136.96,237.62 L138.93,242.22 L140.90,246.75 L142.86,251.21 L144.83,255.61 L146.80,259.94 L148.77,264.20 L150.74,268.40 L152.71,272.54 L154.68,276.61 L156.65,280.63 L158.62,284.57 L160.59,288.46 L162.55,292.28 L164.52,296.05 L166.49,299.75 L168.46,303.40 L170.43,306.98 L172.40,310.51 L174.37,313.97 L176.34,317.38 L178.31,320.74 L180.27,324.03 L182.24,327.27 L184.21,330.46 L186.18,333.59 L188.15,336.67 L190.12,339.69 L192.09,342.66 L194.06,345.57 L196.03,348.44 L198.00,351.25 L199.96,354.01 L201.93,356.72 L203.90,359.39 L205.87,362.00 L207.84,364.56 L209.81,367.07 L211.78,369.54 L213.75,371.96 L215.72,374.33 L217.68,376.66 L219.65,378.94 L221.62,381.17 L223.59,383.36 L225.56,385.51 L227.53,387.61 L229.50,389.67 L231.47,391.69 L233.44,393.67 L235.41,395.60 L237.37,397.49 L239.34,399.35 L241.31,401.16 L243.28,402.94 L245.25,404.67 L247.22,406.37 L249.19,408.03 L251.16,409.65 L253.13,411.24 L255.09,412.79 L257.06,414.31 L259.03,415.79 L261.00,417.23 L262.97,418.64 L264.94,420.02 L266.91,421.37 L268.88,422.68 L270.85,423.97 L272.82,425.22 L274.78,426.44 L276.75,427.63 L278.72,428.79 L280.69,429.93 L282.66,431.03 L284.63,432.11 L286.60,433.16 L288.57,434.18 L290.54,435.17 L292.51,436.15 L294.47,437.09 L296.44,438.01 L298.41,438.91 L300.38,439.78 L302.35,440.63 L304.32,441.46 L306.29,442.27 L308.26,443.05 L310.23,443.82 L312.19,444.56 L314.16,445.28 L316.13,445.99 L318.10,446.68 L320.07,447.34 L322.04,447.99 L324.01,448.63 L325.98,449.25 L327.95,449.85 L329.92,450.43 L331.88,451.00 L333.85,451.56 L335.82,452.10 L337.79,452.63 L339.76,453.15 L341.73,453.66 L343.70,454.15 L345.67,454.63 L347.64,455.10 L349.60,455.57 L351.57,456.02 L353.54,456.46 L355.51,456.90 L357.48,457.32 L359.45,457.74 L361.42,458.16 L363.39,458.56 L365.36,458.97 L367.33,459.36 L369.29,459.75 L371.26,460.14 L373.23,460.53 L375.20,460.91 L377.17,461.29 L379.14,461.67 L381.11,462.04 L383.08,462.42 L385.05,462.79 L387.01,463.17 L388.98,463.54 L390.95,463.92 L392.92,464.30 L394.89,464.68 L396.86,465.07 L398.83,465.46 L400.80,465.85 L402.77,466.25 L404.74,466.65 L406.70,467.06 L408.67,467.47 L410.64,467.89 L412.61,468.32 L414.58,468.76 L416.55,469.20 L418.52,469.66 L420.49,470.12 L422.46,470.59 L424.42,471.08 L426.39,471.57 L428.36,472.08 L430.33,472.60 L432.30,473.13 L434.27,473.67 L436.24,474.23 L438.21,474.81 L440.18,475.39 L442.15,476.00 L444.11,476.62 L446.08,477.25 L448.05,477.91 L450.02,478.58 L451.99,479.27 L453.96,479.97 L455.93,480.70 L457.90,481.45 L459.87,482.22 L461.83,483.00 L463.80,483.81 L465.77,484.64 L467.74,485.50 L469.71,486.38 L471.68,487.28 L473.65,488.20 L475.62,489.15 L477.59,490.12 L479.56,491.12 L481.52,492.15 L483.49,493.20 L485.46,494.29 L487.43,495.39 L489.40,496.53 " stroke-dasharray="1.4 1.8" stroke-width="1.4"/>
<path d="M58.20,37.04 L60.17,42.14 L62.14,47.21 L64.11,52.25 L66.08,57.26 L68.04,62.24 L70.01,67.20 L71.98,72.12 L73.95,77.01 L75.92,81.88 L77.89,86.71 L79.86,91.52 L81.83,96.30 L83.80,101.04 L85.77,105.76 L87.73,110.45 L89.70,115.10 L91.67,119.73 L93.64,124.33 L95.61,128.90 L97.58,133.44 L99.55,137.95 L101.52,142.43 L103.49,146.88 L105.45,151.31 L107.42,155.70 L109.39,160.06 L111.36,164.39 L113.33,168.70 L115.30,172.97 L117.27,177.22 L119.24,181.43 L121.21,185.62 L123.18,189.78 L125.14,193.90 L127.11,198.00 L129.08,202.07 L131.05,206.11 L133.02,210.11 L134.99,214.09 L136.96,218.04 L138.93,221.96 L140.90,225.85 L142.86,229.72 L144.83,233.55 L146.80,237.35 L148.77,241.12 L150.74,244.87 L152.71,248.58 L154.68,252.26 L156.65,255.92 L158.62,259.54 L160.59,263.14 L162.55,266.70 L164.52,270.24 L166.49,273.75 L168.46,277.23 L170.43,280.67 L172.40,284.09 L174.37,287.48 L176.34,290.84 L178.31,294.17 L180.27,297.47 L182.24,300.74 L184.21,303.98 L186.18,307.20 L188.15,310.38 L190.12,313.53 L192.09,316.65 L194.06,319.75 L196.03,322.81 L198.00,325.85 L199.96,328.85 L201.93,331.83 L203.90,334.78 L205.87,337.69 L207.84,340.58 L209.81,343.44 L211.78,346.27 L213.75,349.06 L215.72,351.83 L217.68,354.57 L219.65,357.28 L221.62,359.96 L223.59,362.62 L225.56,365.24 L227.53,367.83 L229.50,370.39 L231.47,372.93 L233.44,375.43 L235.41,377.90 L237.37,380.35 L239.34,382.76 L241.31,385.15 L243.28,387.51 L245.25,389.83 L247.22,392.13 L249.19,394.40 L251.16,396.63 L253.13,398.84 L255.09,401.02 L257.06,403.17 L259.03,405.29 L261.00,407.38 L262.97,409.44 L264.94,411.48 L266.91,413.48 L268.88,415.45 L270.85,417.39 L272.82,419.31 L274.78,421.19 L276.75,423.04 L278.72,424.87 L280.69,426.67 L282.66,428.43 L284.63,430.17 L286.60,431.87 L288.57,433.55 L290.54,435.20 L292.51,436.82 L294.47,438.41 L296.44,439.97 L298.41,441.50 L300.38,443.00 L302.35,444.47 L304.32,445.91 L306.29,447.32 L308.26,448.70 L310.23,450.06 L312.19,451.38 L314.16,452.67 L316.13,453.94 L318.10,455.17 L320.07,456.38 L322.04,457.55 L324.01,458.70 L325.98,459.82 L327.95,460.90 L329.92,461.96 L331.88,462.99 L333.85,463.99 L335.82,464.96 L337.79,465.90 L339.76,466.81 L341.73,467.69 L343.70,468.54 L345.67,469.36 L347.64,470.15 L349.60,470.91 L351.57,471.65 L353.54,472.35 L355.51,473.02 L357.48,473.67 L359.45,474.28 L361.42,474.87 L363.39,475.43 L365.36,475.95 L367.33,476.45 L369.29,476.92 L371.26,477.35 L373.23,477.76 L375.20,478.14 L377.17,478.49 L379.14,478.81 L381.11,479.10 L383.08,479.36 L385.05,479.59 L387.01,479.80 L388.98,479.97 L390.95,480.11 L392.92,480.22 L394.89,480.31 L396.86,480.36 L398.83,480.39 L400.80,480.38 L402.77,480.35 L404.74,480.28 L406.70,480.19 L408.67,480.07 L410.64,479.92 L412.61,479.73 L414.58,479.52 L416.55,479.28 L418.52,479.01 L420.49,478.71 L422.46,478.38 L424.42,478.02 L426.39,477.63 L428.36,477.22 L430.33,476.77 L432.30,476.29 L434.27,475.79 L436.24,475.25 L438.21,474.69 L440.18,474.09 L442.15,473.47 L444.11,472.81 L446.08,472.13 L448.05,471.42 L450.02,470.67 L451.99,469.90 L453.96,469.10 L455.93,468.27 L457.90,467.41 L459.87,466.52 L461.83,465.60 L463.80,464.65 L465.77,463.67 L467.74,462.66 L469.71,461.62 L471.68,460.56 L473.65,459.46 L475.62,458.33 L477.59,457.18 L479.56,455.99 L481.52,454.78 L483.49,453.54 L485.46,452.26 L487.43,450.96 L489.40,449.63 " stroke-dasharray="6 4" stroke-width="1.35"/>
<path d="M68.69,-196.60 L69.77,-167.47 L70.85,-141.64 L71.93,-118.50 L73.01,-97.58 L74.09,-78.54 L75.17,-61.09 L76.24,-45.01 L77.32,-30.12 L78.40,-16.27 L79.48,-3.34 L80.56,8.77 L81.64,20.15 L82.72,30.88 L83.79,41.02 L84.87,50.62 L85.95,59.74 L87.03,68.41 L88.11,76.68 L89.19,84.57 L90.27,92.11 L91.35,99.34 L92.42,106.27 L93.50,112.92 L94.58,119.32 L95.66,125.48 L96.74,131.41 L97.82,137.14 L98.90,142.67 L99.98,148.01 L101.05,153.18 L102.13,158.18 L103.21,163.03 L104.29,167.73 L105.37,172.29 L106.45,176.72 L107.53,181.03 L108.61,185.21 L109.68,189.28 L110.76,193.25 L111.84,197.11 L112.92,200.87 L114.00,204.53 L115.08,208.11 L116.16,211.60 L117.24,215.01 L118.31,218.34 L119.39,221.59 L120.47,224.78 L121.55,227.89 L122.63,230.93 L123.71,233.91 L124.79,236.82 L125.87,239.68 L126.94,242.48 L128.02,245.22 L129.10,247.91 L130.18,250.54 L131.26,253.13 L132.34,255.67 L133.42,258.16 L134.50,260.60 L135.57,263.00 L136.65,265.36 L137.73,267.68 L138.81,269.96 L139.89,272.19 L140.97,274.39 L142.05,276.56 L143.13,278.69 L144.20,280.78 L145.28,282.84 L146.36,284.87 L147.44,286.86 L148.52,288.83 L149.60,290.76 L150.68,292.67 L151.76,294.55 L152.83,296.40 L153.91,298.22 L154.99,300.02 L156.07,301.79 L157.15,303.54 L158.23,305.26 L159.31,306.96 L160.39,308.63 L161.46,310.29 L162.54,311.92 L163.62,313.53 L164.70,315.11 L165.78,316.68 L166.86,318.23 L167.94,319.76 L169.02,321.27 L170.09,322.76 L171.17,324.23 L172.25,325.68 L173.33,327.12 L174.41,328.54 L175.49,329.94 L176.57,331.32 L177.65,332.69 L178.72,334.05 L179.80,335.39 L180.88,336.71 L181.96,338.02 L183.04,339.31 L184.12,340.59 L185.20,341.86 L186.27,343.11 L187.35,344.35 L188.43,345.57 L189.51,346.78 L190.59,347.98 L191.67,349.17 L192.75,350.34 L193.83,351.51 L194.90,352.66 L195.98,353.79 L197.06,354.92 L198.14,356.04 L199.22,357.14 L200.30,358.24 L201.38,359.32 L202.46,360.40 L203.53,361.46 L204.61,362.51 L205.69,363.56 L206.77,364.59 L207.85,365.61 L208.93,366.63 L210.01,367.63 L211.09,368.63 L212.16,369.62 L213.24,370.59 L214.32,371.56 L215.40,372.52 L216.48,373.48 L217.56,374.42 L218.64,375.36 L219.72,376.28 L220.79,377.20 L221.87,378.12 L222.95,379.02 L224.03,379.92 L225.11,380.81 L226.19,381.69 L227.27,382.56 L228.35,383.43 L229.42,384.29 L230.50,385.14 L231.58,385.99 L232.66,386.83 L233.74,387.66 L234.82,388.49 L235.90,389.31 L236.98,390.13 L238.05,390.93 L239.13,391.74 L240.21,392.53 L241.29,393.32 L242.37,394.10 L243.45,394.88 L244.53,395.65 L245.61,396.42 L246.68,397.18 L247.76,397.93 L248.84,398.68 L249.92,399.43 L251.00,400.17 L252.08,400.90 L253.16,401.63 L254.24,402.35 L255.31,403.07 L256.39,403.78 L257.47,404.49 L258.55,405.19 L259.63,405.89 L260.71,406.58 L261.79,407.27 L262.87,407.95 L263.94,408.63 L265.02,409.31 L266.10,409.98 L267.18,410.64 L268.26,411.30 L269.34,411.96 L270.42,412.61 L271.50,413.26 L272.57,413.91 L273.65,414.55 L274.73,415.18 L275.81,415.81 L276.89,416.44 L277.97,417.06 L279.05,417.68 L280.13,418.30 L281.20,418.91 L282.28,419.52 L283.36,420.13 L284.44,420.73 L285.52,421.32 L286.60,421.92 L287.68,422.51 L288.75,423.09 L289.83,423.68 L290.91,424.26 L291.99,424.83 L293.07,425.41 L294.15,425.97 L295.23,426.54 L296.31,427.10 L297.38,427.66 L298.46,428.22 L299.54,428.77 L300.62,429.32 L301.70,429.87 L302.78,430.41 L303.86,430.95 L304.94,431.49 L306.01,432.02 L307.09,432.56 L308.17,433.08 L309.25,433.61 L310.33,434.13 L311.41,434.65 L312.49,435.17 L313.57,435.68 L314.64,436.19 L315.72,436.70 L316.80,437.21 L317.88,437.71 L318.96,438.21 L320.04,438.71 L321.12,439.20 L322.20,439.70 L323.27,440.19 L324.35,440.67 L325.43,441.16 L326.51,441.64 L327.59,442.12 L328.67,442.60 L329.75,443.07 L330.83,443.55 L331.90,444.02 L332.98,444.49 L334.06,444.95 L335.14,445.41 L336.22,445.87 L337.30,446.33 L338.38,446.79 L339.46,447.24 L340.53,447.69 L341.61,448.14 L342.69,448.59 L343.77,449.04 L344.85,449.48 L345.93,449.92 L347.01,450.36 L348.09,450.80 L349.16,451.23 L350.24,451.66 L351.32,452.09 L352.40,452.52 L353.48,452.95 L354.56,453.37 L355.64,453.80 L356.72,454.22 L357.79,454.63 L358.87,455.05 L359.95,455.47 L361.03,455.88 L362.11,456.29 L363.19,456.70 L364.27,457.11 L365.35,457.51 L366.42,457.91 L367.50,458.32 L368.58,458.72 L369.66,459.11 L370.74,459.51 L371.82,459.91 L372.90,460.30 L373.98,460.69 L375.05,461.08 L376.13,461.47 L377.21,461.85 L378.29,462.24 L379.37,462.62 L380.45,463.00 L381.53,463.38 L382.61,463.76 L383.68,464.13 L384.76,464.51 L385.84,464.88 L386.92,465.25 L388.00,465.62 L389.08,465.99 L390.16,466.36 L391.23,466.72 L392.31,467.09 L393.39,467.45 L394.47,467.81 L395.55,468.17 L396.63,468.53 L397.71,468.88 L398.79,469.24 L399.86,469.59 L400.94,469.94 L402.02,470.29 L403.10,470.64 L404.18,470.99 L405.26,471.34 L406.34,471.68 L407.42,472.02 L408.49,472.37 L409.57,472.71 L410.65,473.05 L411.73,473.39 L412.81,473.72 L413.89,474.06 L414.97,474.39 L416.05,474.73 L417.12,475.06 L418.20,475.39 L419.28,475.72 L420.36,476.04 L421.44,476.37 L422.52,476.70 L423.60,477.02 L424.68,477.34 L425.75,477.66 L426.83,477.99 L427.91,478.30 L428.99,478.62 L430.07,478.94 L431.15,479.26 L432.23,479.57 L433.31,479.88 L434.38,480.20 L435.46,480.51 L436.54,480.82 L437.62,481.12 L438.70,481.43 L439.78,481.74 L440.86,482.04 L441.94,482.35 L443.01,482.65 L444.09,482.95 L445.17,483.26 L446.25,483.56 L447.33,483.85 L448.41,484.15 L449.49,484.45 L450.57,484.74 L451.64,485.04 L452.72,485.33 L453.80,485.63 L454.88,485.92 L455.96,486.21 L457.04,486.50 L458.12,486.79 L459.20,487.07 L460.27,487.36 L461.35,487.65 L462.43,487.93 L463.51,488.21 L464.59,488.50 L465.67,488.78 L466.75,489.06 L467.83,489.34 L468.90,489.62 L469.98,489.90 L471.06,490.17 L472.14,490.45 L473.22,490.72 L474.30,491.00 L475.38,491.27 L476.46,491.54 L477.53,491.81 L478.61,492.09 L479.69,492.35 L480.77,492.62 L481.85,492.89 L482.93,493.16 L484.01,493.42 L485.09,493.69 L486.16,493.95 L487.24,494.22 L488.32,494.48 L489.40,494.74 " stroke-dasharray="11 3.3 1.5 3.3" stroke-width="1.4"/>
<path d="M97.40,113.22 C123.53,159.20 208.47,334.73 254.20,389.10 C299.93,443.47 339.13,427.58 371.80,439.44 C404.47,451.29 437.13,456.78 450.20,460.25" stroke-dasharray="11.5 5" stroke-width="1.5"/>
<circle cx="97.40" cy="113.22" r="1.5" fill="#00b050" stroke="none"/>
<circle cx="254.20" cy="389.10" r="1.5" fill="#00b050" stroke="none"/>
<circle cx="371.80" cy="439.44" r="1.5" fill="#00b050" stroke="none"/>
<circle cx="450.20" cy="460.25" r="1.5" fill="#00b050" stroke="none"/>
<path d="M97.40,76.92 C123.53,128.34 208.47,325.17 254.20,385.47 C299.93,445.77 339.13,426.25 371.80,438.71 C404.47,451.17 437.13,456.66 450.20,460.25" stroke-dasharray="13 5 1.6 5 1.6 5" stroke-width="1.5"/>
<circle cx="97.40" cy="76.92" r="1.5" fill="#00b050" stroke="none"/>
<circle cx="254.20" cy="385.47" r="1.5" fill="#00b050" stroke="none"/>
<circle cx="371.80" cy="438.71" r="1.5" fill="#00b050" stroke="none"/>
<circle cx="450.20" cy="460.25" r="1.5" fill="#00b050" stroke="none"/>
</g>
</g>
<g font-family="'Liberation Serif', serif" font-size="10.4" fill="#0a0a0a" stroke="#0a0a0a" stroke-width="0.18">
<text x="48.8" y="18.1" text-anchor="end">3.5</text>
<text x="48.8" y="139.1" text-anchor="end">3.0</text>
<text x="48.8" y="260.1" text-anchor="end">2.5</text>
<text x="48.8" y="381.1" text-anchor="end">2.0</text>
<text x="48.8" y="502.1" text-anchor="end">1.5</text>
<text x="48.8" y="623.1" text-anchor="end">1.0</text>
<text x="58.5" y="635.4" text-anchor="middle">0.00</text>
<text x="136.9" y="635.4" text-anchor="middle">0.02</text>
<text x="215.3" y="635.4" text-anchor="middle">0.04</text>
<text x="293.7" y="635.4" text-anchor="middle">0.06</text>
<text x="372.1" y="635.4" text-anchor="middle">0.08</text>
<text x="450.5" y="635.4" text-anchor="middle">0.10</text>
<text x="528.9" y="635.4" text-anchor="middle">0.12</text>
<text x="27.5" y="65"><tspan font-style="italic" font-size="13.4">α</tspan> (-)</text>
<text x="476.6" y="645.6"><tspan font-style="italic">r</tspan>/<tspan font-style="italic">d</tspan> (-)</text>
<text id="L0" x="222.5" y="151.30" xml:space="preserve" word-spacing="-0.211">black solid line <tspan font-size="8.6" dy="-0.4" stroke="none" fill="#333">≅</tspan><tspan dy="0.4" font-size="8.6">​</tspan> <tspan font-style="italic" font-size="13.4">α</tspan><tspan font-size="7.6" dy="2.2">Ct</tspan><tspan dy="-2.2" font-size="7.6">​</tspan> based on chart values</text>
<text id="L1" x="222.5" y="164.33" xml:space="preserve" word-spacing="-0.346">bold coloured solid line <tspan font-size="8.6" dy="-0.4" stroke="none" fill="#333">≅</tspan><tspan dy="0.4" font-size="8.6">​</tspan> <tspan font-style="italic" font-size="13.4">α</tspan><tspan font-size="7.6" dy="2.2">VM</tspan><tspan dy="-2.2" font-size="7.6">​</tspan> based on FEM <tspan font-style="italic" font-size="13.4">σ</tspan><tspan font-size="7.6" dy="2.2">VM</tspan><tspan dy="-2.2" font-size="7.6">​</tspan></text>
<text id="L2" x="222.5" y="177.36" xml:space="preserve" word-spacing="-0.279">with 3 coloured trend lines TL of <tspan font-style="italic" font-size="13.4">α</tspan><tspan font-size="7.6" dy="2.2">VM</tspan><tspan dy="-2.2" font-size="7.6">​</tspan>:</text>
<text id="L3" x="222.5" y="190.39" xml:space="preserve" word-spacing="0.139">dotted line <tspan font-size="8.6" dy="-0.4" stroke="none" fill="#333">≅</tspan><tspan dy="0.4" font-size="8.6">​</tspan> 3rd degree polynomial P3 TL1 <tspan font-style="italic" font-size="13.4">α</tspan><tspan font-size="6.1" dy="2.2">VMP3</tspan><tspan dy="-2.2" font-size="6.1">​</tspan></text>
<text id="L4" x="222.5" y="203.42" xml:space="preserve" word-spacing="0.161">dashed line <tspan font-size="8.6" dy="-0.4" stroke="none" fill="#333">≅</tspan><tspan dy="0.4" font-size="8.6">​</tspan> 2nd degree polynomial P2 TL2 <tspan font-style="italic" font-size="13.4">α</tspan><tspan font-size="6.1" dy="2.2">VMP2</tspan><tspan dy="-2.2" font-size="6.1">​</tspan></text>
<text id="L5" x="222.5" y="216.45" xml:space="preserve" word-spacing="-0.054">dash-dotted line <tspan font-size="8.6" dy="-0.4" stroke="none" fill="#333">≅</tspan><tspan dy="0.4" font-size="8.6">​</tspan> Power Pw TL3 <tspan font-style="italic" font-size="13.4">α</tspan><tspan font-size="6.1" dy="2.2">Pw</tspan><tspan dy="-2.2" font-size="6.1">​</tspan></text>
<text id="L6" x="222.5" y="229.48" xml:space="preserve" word-spacing="-0.627">longdash line <tspan font-size="8.6" dy="-0.4" stroke="none" fill="#333">≅</tspan><tspan dy="0.4" font-size="8.6">​</tspan> <tspan font-style="italic" font-size="13.4">α</tspan><tspan font-size="7.6" dy="2.2">S1</tspan><tspan dy="-2.2" font-size="7.6">​</tspan> based on FEM <tspan font-style="italic" font-size="13.4">σ</tspan><tspan font-size="7.6" dy="2.2">1</tspan><tspan dy="-2.2" font-size="7.6">​</tspan></text>
<text id="L7" x="222.5" y="242.51" xml:space="preserve" word-spacing="-0.087">dash-dot-dot line <tspan font-size="8.6" dy="-0.4" stroke="none" fill="#333">≅</tspan><tspan dy="0.4" font-size="8.6">​</tspan> <tspan font-style="italic" font-size="13.4">α</tspan><tspan font-size="7.6" dy="2.2">Ti</tspan><tspan dy="-2.2" font-size="7.6">​</tspan> based on Tipton FEM</text>
<text x="484.6" y="468.6" font-size="10.7"><tspan font-style="italic">D</tspan>/<tspan font-style="italic">d</tspan>=1.10</text>
<text x="484.6" y="480.8" font-size="10.7">green</text>
<text x="484.6" y="513.6" font-size="10.7"><tspan font-style="italic">D</tspan>/<tspan font-style="italic">d</tspan>=1.05</text>
<text x="484.6" y="525.8" font-size="10.7">blue</text>
<text x="484.6" y="547.6" font-size="10.7"><tspan font-style="italic">D</tspan>/<tspan font-style="italic">d</tspan>=1.02</text>
<text x="484.6" y="559.8" font-size="10.7">brown</text>
<text x="484.6" y="586.1" font-size="10.7"><tspan font-style="italic">D</tspan>/<tspan font-style="italic">d</tspan>=1.01</text>
<text x="484.6" y="598.3" font-size="10.7">red</text>
</g>
</svg>
</body></html>
